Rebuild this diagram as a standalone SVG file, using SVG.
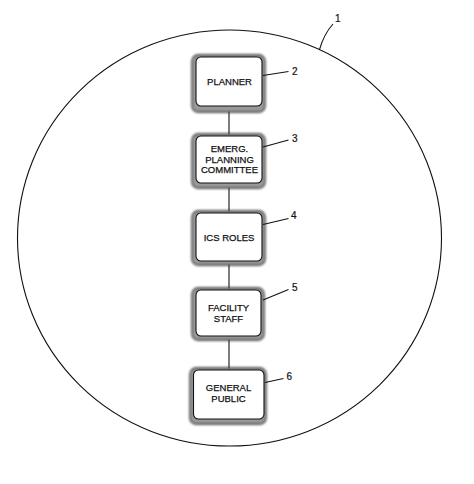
<svg xmlns="http://www.w3.org/2000/svg" width="474" height="484" viewBox="0 0 474 484">
<defs>
<filter id="fuzz" x="-10%" y="-10%" width="120%" height="120%"><feGaussianBlur stdDeviation="0.8"/></filter>
<style>
.sh{fill:#9a9a9a;stroke:#222;stroke-width:1.3;filter:url(#fuzz)}
.face{fill:#fff;stroke:#111;stroke-width:1.1}
.t{font-family:"Liberation Sans",Arial,sans-serif;font-size:9.5px;fill:#111;stroke:#111;stroke-width:0.25;text-anchor:middle}
.n{font-family:"Liberation Sans",Arial,sans-serif;font-size:10px;fill:#111;stroke:#111;stroke-width:0.2}
.ln{stroke:#111;stroke-width:1.1;fill:none}
</style>
</defs>
<rect width="474" height="484" fill="#fff"/>
<g id="boundary">
<ellipse cx="229.5" cy="238" rx="212" ry="208" class="ln" stroke-width="1.5"/>
<path d="M319.5 49.5 Q324 34 333 24" class="ln"/>
<text x="335" y="22" class="n">1</text>
</g>
<g id="connectors">
<line x1="229" y1="107" x2="229" y2="136" class="ln"/>
<line x1="229" y1="184" x2="229" y2="213" class="ln"/>
<line x1="229" y1="262" x2="229" y2="290" class="ln"/>
<line x1="229" y1="337" x2="229" y2="370" class="ln"/>
</g>
<g id="planner">
<rect x="192" y="55" width="73" height="57" rx="6" class="sh"/>
<rect x="196" y="57" width="66" height="49" rx="5" class="face"/>
<text x="229.5" y="84.5" class="t">PLANNER</text>
<line x1="263" y1="75.5" x2="288.5" y2="71.5" class="ln"/>
<text x="292" y="75" class="n">2</text>
</g>
<g id="committee">
<rect x="192" y="134" width="73" height="54" rx="6" class="sh"/>
<rect x="196" y="136" width="66" height="47" rx="5" class="face"/>
<text x="229.5" y="152" class="t">EMERG.</text>
<text x="229.5" y="162.5" class="t">PLANNING</text>
<text x="229.5" y="173" class="t">COMMITTEE</text>
<line x1="263" y1="147" x2="288.5" y2="140" class="ln"/>
<text x="292" y="142" class="n">3</text>
</g>
<g id="ics">
<rect x="192" y="211" width="73" height="54" rx="6" class="sh"/>
<rect x="196" y="213" width="66" height="48" rx="5" class="face"/>
<text x="229" y="240.5" class="t">ICS ROLES</text>
<line x1="263" y1="224.5" x2="288.5" y2="218.5" class="ln"/>
<text x="291" y="219" class="n">4</text>
</g>
<g id="facility">
<rect x="192" y="288" width="72" height="52" rx="6" class="sh"/>
<rect x="196" y="290" width="65" height="46" rx="5" class="face"/>
<text x="228.5" y="311" class="t">FACILITY</text>
<text x="228.5" y="322" class="t">STAFF</text>
<line x1="263" y1="300" x2="288.5" y2="289.5" class="ln"/>
<text x="292" y="291" class="n">5</text>
</g>
<g id="public">
<rect x="190" y="368" width="76" height="56" rx="6" class="sh"/>
<rect x="193.5" y="370" width="70.5" height="49" rx="5" class="face"/>
<text x="228.5" y="391" class="t">GENERAL</text>
<text x="228.5" y="402" class="t">PUBLIC</text>
<line x1="265" y1="382.5" x2="283.5" y2="378.5" class="ln"/>
<text x="286.5" y="380" class="n">6</text>
</g>
</svg>
